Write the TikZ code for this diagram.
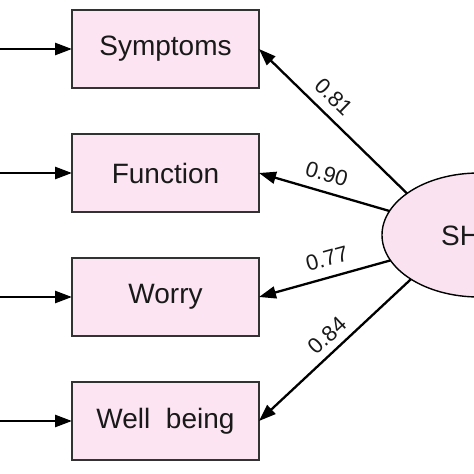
\documentclass[tikz,border=0pt]{standalone}
\usepackage{fontspec}
\setmainfont{Liberation Sans}
\usetikzlibrary{arrows.meta,shapes.geometric}
\definecolor{boxpink}{RGB}{252,228,242}
\definecolor{ellpink}{RGB}{250,226,241}
\definecolor{edgegray}{RGB}{50,50,50}
\definecolor{txt}{RGB}{25,25,25}
\begin{document}
\begin{tikzpicture}[x=1pt,y=-1pt,
  varbox/.style={draw=edgegray,line width=1.4pt,fill=boxpink,minimum width=187pt,minimum height=78pt,inner sep=0pt,outer sep=0pt,text=txt,font=\fontsize{28}{33}\selectfont},
  latent/.style={draw=black,line width=1.4pt,fill=ellpink,ellipse,minimum width=194pt,minimum height=124pt,inner sep=0pt,outer sep=0pt},
  conn/.style={line width=2.6pt,-{Triangle[length=17pt,width=12pt]}},
  load/.style={line width=2.3pt,{Triangle[length=17pt,width=12pt]}-},
  coef/.style={sloped,inner sep=0pt,font=\fontsize{22}{26}\selectfont,text=txt}]
\useasboundingbox (0,0) rectangle (474,474);
\node[latent] (sh) at (479,235) {};
\node[anchor=west,inner sep=0pt,text=txt,font=\fontsize{28}{33}\selectfont] (shl) at (441,236) {SH};
\node[varbox] (sym) at (165.5,49) {Symptoms};
\node[varbox] (fun) at (165.5,173) {Function};
\node[varbox] (wor) at (165.5,297) {Worry};
\node[varbox] (wel) at (165.5,421) {Well\ \ being};
\coordinate (e1) at (0,49);
\coordinate (e2) at (0,173);
\coordinate (e3) at (0,297);
\coordinate (e4) at (0,421);
\draw[conn] (e1) -- (sym.west);
\draw[conn] (e2) -- (fun.west);
\draw[conn] (e3) -- (wor.west);
\draw[conn] (e4) -- (wel.west);
\draw[load] (sym.east) -- node[coef,pos=0.42,above=9pt] (l1) {0.81} (sh.150);
\draw[load] (fun.east) -- node[coef,pos=0.48,above=9pt] (l2) {0.90} (sh.165);
\draw[load] (wor.east) -- node[coef,pos=0.555,above=10pt] (l3) {0.77} (sh.196);
\draw[load] (wel.east) -- node[coef,pos=0.52,above=7pt] (l4) {0.84} (sh.213);
\end{tikzpicture}
\end{document}
